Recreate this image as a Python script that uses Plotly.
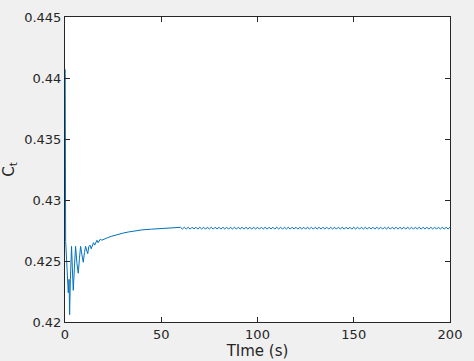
import plotly.graph_objects as go

# Transient part (time in s, thrust coefficient)
t_early = [0, 0.1, 0.35, 0.8, 1.2, 1.7, 2.1, 2.4, 2.8, 3.4, 3.8, 4.3, 4.9, 5.5, 6.2, 6.9, 7.5,
           8.1, 8.8, 9.5, 10.1, 10.7, 11.2, 11.8, 12.4, 13.0, 13.6, 14.2, 14.8, 15.4, 16.0,
           16.6, 17.2, 17.8, 18.4, 19.0, 20, 22, 24, 26, 28, 30, 33, 36, 40, 45, 50, 55, 59]
ct_early = [0.4407, 0.4407, 0.4266, 0.4252, 0.4232, 0.4224, 0.4235, 0.4206, 0.4235, 0.4262,
            0.4245, 0.4226, 0.4245, 0.4262, 0.4248, 0.4240, 0.4252, 0.4262, 0.4255, 0.4249,
            0.4257, 0.4262, 0.4259, 0.4256, 0.4262, 0.4263, 0.4260, 0.4262, 0.4265, 0.4263,
            0.4265, 0.4267, 0.4265, 0.4267, 0.4268, 0.4267, 0.42675, 0.4269, 0.42702, 0.42712,
            0.4272, 0.42728, 0.42738, 0.42746, 0.42755, 0.42761, 0.42765, 0.42768, 0.42770]

# Steady part with small periodic ripple
t_late = list(range(60, 201))
ct_late = [
    0.42776, 0.42762, 0.42777, 0.42762, 0.42777, 0.42761, 0.42777, 0.42762, 0.42777, 0.42761,
    0.42777, 0.42762, 0.42777, 0.42761, 0.42777, 0.42762, 0.42777, 0.42761, 0.42777, 0.42762,
    0.42777, 0.42761, 0.42777, 0.42762, 0.42777, 0.42761, 0.42777, 0.42762, 0.42777, 0.42761,
    0.42777, 0.42762, 0.42777, 0.42761, 0.42777, 0.42762, 0.42777, 0.42761, 0.42777, 0.42762,
    0.42777, 0.42761, 0.42777, 0.42762, 0.42777, 0.42761, 0.42777, 0.42762, 0.42777, 0.42761,
    0.42777, 0.42762, 0.42777, 0.42761, 0.42777, 0.42762, 0.42777, 0.42761, 0.42777, 0.42762,
    0.42777, 0.42761, 0.42777, 0.42762, 0.42777, 0.42761, 0.42777, 0.42762, 0.42777, 0.42761,
    0.42777, 0.42762, 0.42777, 0.42761, 0.42777, 0.42762, 0.42777, 0.42761, 0.42777, 0.42762,
    0.42777, 0.42761, 0.42777, 0.42762, 0.42777, 0.42761, 0.42777, 0.42762, 0.42777, 0.42761,
    0.42777, 0.42762, 0.42777, 0.42761, 0.42777, 0.42762, 0.42777, 0.42761, 0.42777, 0.42762,
    0.42777, 0.42761, 0.42777, 0.42762, 0.42777, 0.42761, 0.42777, 0.42762, 0.42777, 0.42761,
    0.42777, 0.42762, 0.42777, 0.42761, 0.42777, 0.42762, 0.42777, 0.42761, 0.42777, 0.42762,
    0.42777, 0.42761, 0.42777, 0.42762, 0.42777, 0.42761, 0.42777, 0.42762, 0.42777, 0.42761,
    0.42777, 0.42762, 0.42777, 0.42761, 0.42777, 0.42762, 0.42777, 0.42761, 0.42777, 0.42762,
    0.42777,
]

x_ticks = [0, 50, 100, 150, 200]
y_ticks = [0.42, 0.425, 0.43, 0.435, 0.44, 0.445]
y_tick_labels = ["0.42", "0.425", "0.43", "0.435", "0.44", "0.445"]

fig = go.Figure()
fig.add_trace(go.Scatter(
    x=t_early + t_late, y=ct_early + ct_late, mode="lines",
    line=dict(color="#0072BD", width=1), showlegend=False,
))

axis_common = dict(
    showgrid=False, zeroline=False, showline=True, linecolor="#262626", linewidth=1,
    mirror="ticks", ticks="inside", ticklen=5, tickcolor="#262626",
    tickfont=dict(family="DejaVu Sans", size=13, color="#262626"),
)

fig.update_layout(
    width=474, height=361,
    paper_bgcolor="#f0f0f0", plot_bgcolor="white",
    margin=dict(l=65, r=24, t=17, b=39, autoexpand=False),
    xaxis=dict(range=[0, 200], tickvals=x_ticks, automargin=False,
               title=dict(text="TIme (s)", font=dict(family="DejaVu Sans", size=15, color="#262626"), standoff=1),
               **axis_common),
    yaxis=dict(range=[0.42, 0.445], tickvals=y_ticks, ticktext=y_tick_labels, automargin=False,
               title=dict(text="C<sub>t</sub>", font=dict(family="DejaVu Sans", size=15, color="#262626"), standoff=6),
               **axis_common),
)

fig.write_html("out.html", config={"displayModeBar": False},
               post_script="document.body.style.margin='0';document.body.style.padding='0';")
